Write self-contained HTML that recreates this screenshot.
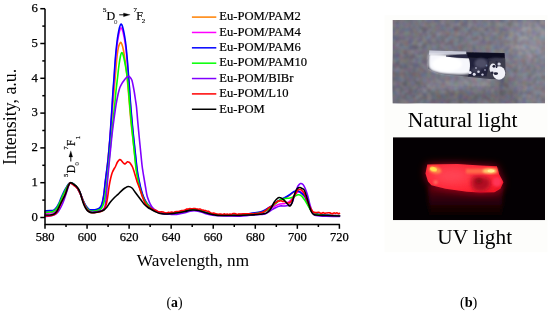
<!DOCTYPE html>
<html><head><meta charset="utf-8"><title>Eu-POM luminescence</title>
<style>
html,body{margin:0;padding:0;background:#fff;width:550px;height:313px;overflow:hidden}
svg{display:block}
text{font-family:"Liberation Serif","Times New Roman",serif;fill:#000}
</style></head><body>
<svg width="550" height="313" viewBox="0 0 550 313">
<defs>
<filter id="b1" x="-20%" y="-20%" width="140%" height="140%"><feGaussianBlur stdDeviation="1"/></filter>
<filter id="b2" x="-30%" y="-30%" width="160%" height="160%"><feGaussianBlur stdDeviation="2"/></filter>
<filter id="b3" x="-50%" y="-50%" width="200%" height="200%"><feGaussianBlur stdDeviation="4"/></filter>
<filter id="b05" x="-20%" y="-20%" width="140%" height="140%"><feGaussianBlur stdDeviation="0.6"/></filter>
<filter id="noise" x="0" y="0" width="100%" height="100%" color-interpolation-filters="sRGB">
  <feTurbulence type="fractalNoise" baseFrequency="0.22" numOctaves="2" seed="7" result="n0"/>
  <feGaussianBlur in="n0" stdDeviation="0.8" result="n"/>
  <feColorMatrix in="n" type="matrix" values="1.0 0.4 0 0 -0.2  0.2 1.0 0.2 0 -0.2  0 0.4 1.0 0 -0.17  0 0 0 0 0.25"/>
  <feComposite in2="SourceGraphic" operator="in"/>
</filter>
<linearGradient id="gbg" x1="0" y1="0" x2="1" y2="0">
  <stop offset="0" stop-color="#6f6d7b"/><stop offset="0.5" stop-color="#767482"/><stop offset="1" stop-color="#7e7c8a"/>
</linearGradient>
<radialGradient id="gred" cx="0.4" cy="0.4" r="0.7">
  <stop offset="0" stop-color="#ff3a4a"/><stop offset="0.7" stop-color="#ff2838"/><stop offset="1" stop-color="#f01828"/>
</radialGradient>
<linearGradient id="grefl" x1="0" y1="0" x2="0" y2="1">
  <stop offset="0" stop-color="#5a0010"/><stop offset="0.5" stop-color="#2c0008"/><stop offset="1" stop-color="#0a0003"/>
</linearGradient>
<clipPath id="c1"><rect x="392.5" y="20" width="152.5" height="83.5"/></clipPath>
<clipPath id="c2"><rect x="393" y="137.2" width="152" height="83"/></clipPath>
</defs>

<!-- ===== plot (a) ===== -->
<g fill="none" stroke-width="1.6" stroke-linejoin="round" stroke-linecap="round">
<path d="M45.00,212.00 C46.33,211.92 51.00,212.08 53.00,211.50 C55.00,210.92 55.83,210.00 57.00,208.50 C58.17,207.00 59.00,204.67 60.00,202.50 C61.00,200.33 62.00,197.75 63.00,195.50 C64.00,193.25 65.08,190.83 66.00,189.00 C66.92,187.17 67.80,185.53 68.50,184.50 C69.20,183.47 69.53,182.98 70.20,182.80 C70.87,182.62 71.78,183.07 72.50,183.40 C73.22,183.73 73.75,184.12 74.50,184.80 C75.25,185.48 76.08,186.13 77.00,187.50 C77.92,188.87 79.00,190.83 80.00,193.00 C81.00,195.17 82.00,198.25 83.00,200.50 C84.00,202.75 85.00,204.95 86.00,206.50 C87.00,208.05 88.00,209.12 89.00,209.80 C90.00,210.48 90.83,210.57 92.00,210.60 C93.17,210.63 94.67,210.40 96.00,210.00 C97.33,209.60 98.95,209.20 100.00,208.20 C101.05,207.20 101.67,206.03 102.30,204.00 C102.93,201.97 103.35,199.00 103.80,196.00 C104.25,193.00 104.58,189.50 105.00,186.00 C105.42,182.50 105.85,179.00 106.30,175.00 C106.75,171.00 107.25,166.33 107.70,162.00 C108.15,157.67 108.57,153.50 109.00,149.00 C109.43,144.50 109.88,139.67 110.30,135.00 C110.72,130.33 111.10,125.67 111.50,121.00 C111.90,116.33 112.32,111.50 112.70,107.00 C113.08,102.50 113.42,98.50 113.80,94.00 C114.18,89.50 114.63,84.33 115.00,80.00 C115.37,75.67 115.63,72.17 116.00,68.00 C116.37,63.83 116.78,58.50 117.20,55.00 C117.62,51.50 117.95,49.08 118.50,47.00 C119.05,44.92 119.92,42.92 120.50,42.50 C121.08,42.08 121.50,43.17 122.00,44.50 C122.50,45.83 123.00,47.92 123.50,50.50 C124.00,53.08 124.50,56.42 125.00,60.00 C125.50,63.58 126.08,68.33 126.50,72.00 C126.92,75.67 127.17,78.50 127.50,82.00 C127.83,85.50 128.17,89.17 128.50,93.00 C128.83,96.83 129.17,101.00 129.50,105.00 C129.83,109.00 130.17,113.33 130.50,117.00 C130.83,120.67 131.12,123.50 131.50,127.00 C131.88,130.50 132.35,134.17 132.80,138.00 C133.25,141.83 133.75,146.00 134.20,150.00 C134.65,154.00 135.07,158.33 135.50,162.00 C135.93,165.67 136.30,168.83 136.80,172.00 C137.30,175.17 137.97,178.33 138.50,181.00 C139.03,183.67 139.42,185.83 140.00,188.00 C140.58,190.17 141.25,192.08 142.00,194.00 C142.75,195.92 143.67,197.92 144.50,199.50 C145.33,201.08 145.92,202.08 147.00,203.50 C148.08,204.92 149.67,206.78 151.00,208.00 C152.33,209.22 153.50,210.00 155.00,210.80 C156.50,211.60 157.50,212.38 160.00,212.80 C162.50,213.22 166.67,213.43 170.00,213.30 C173.33,213.17 176.67,212.58 180.00,212.00 C183.33,211.42 187.17,210.17 190.00,209.80 C192.83,209.43 194.50,209.40 197.00,209.80 C199.50,210.20 202.00,211.40 205.00,212.20 C208.00,213.00 210.83,214.13 215.00,214.60 C219.17,215.07 224.17,215.13 230.00,215.00 C235.83,214.87 245.00,214.23 250.00,213.80 C255.00,213.37 257.50,212.97 260.00,212.40 C262.50,211.83 263.33,211.23 265.00,210.40 C266.67,209.57 268.33,208.57 270.00,207.40 C271.67,206.23 273.33,204.57 275.00,203.40 C276.67,202.23 278.33,201.30 280.00,200.40 C281.67,199.50 283.33,198.90 285.00,198.00 C286.67,197.10 288.50,196.00 290.00,195.00 C291.50,194.00 292.67,192.58 294.00,192.00 C295.33,191.42 297.00,191.50 298.00,191.50 C299.00,191.50 299.33,191.58 300.00,192.00 C300.67,192.42 301.17,193.17 302.00,194.00 C302.83,194.83 304.25,195.92 305.00,197.00 C305.75,198.08 305.92,199.08 306.50,200.50 C307.08,201.92 307.75,203.92 308.50,205.50 C309.25,207.08 310.08,208.72 311.00,210.00 C311.92,211.28 312.50,212.40 314.00,213.20 C315.50,214.00 315.75,214.37 320.00,214.80 C324.25,215.23 336.25,215.63 339.50,215.80" stroke="#ff8000"/>
<path d="M45.00,213.50 C45.83,213.42 48.50,213.17 50.00,213.00 C51.50,212.83 52.83,213.00 54.00,212.50 C55.17,212.00 56.00,211.33 57.00,210.00 C58.00,208.67 59.00,206.50 60.00,204.50 C61.00,202.50 62.00,200.42 63.00,198.00 C64.00,195.58 65.08,192.17 66.00,190.00 C66.92,187.83 67.80,186.20 68.50,185.00 C69.20,183.80 69.53,183.05 70.20,182.80 C70.87,182.55 71.78,183.13 72.50,183.50 C73.22,183.87 73.75,184.28 74.50,185.00 C75.25,185.72 76.08,186.47 77.00,187.80 C77.92,189.13 79.00,190.88 80.00,193.00 C81.00,195.12 82.00,198.17 83.00,200.50 C84.00,202.83 85.00,205.33 86.00,207.00 C87.00,208.67 88.00,209.75 89.00,210.50 C90.00,211.25 90.83,211.42 92.00,211.50 C93.17,211.58 94.83,211.28 96.00,211.00 C97.17,210.72 98.12,210.61 99.00,209.80 C99.88,208.99 100.65,207.65 101.30,206.11 C101.95,204.58 102.42,202.92 102.90,200.62 C103.38,198.31 103.82,195.21 104.20,192.27 C104.58,189.32 104.82,186.13 105.20,182.94 C105.58,179.75 106.03,176.72 106.50,173.12 C106.97,169.52 107.58,165.10 108.00,161.34 C108.42,157.57 108.67,154.30 109.00,150.53 C109.33,146.77 109.67,143.17 110.00,138.75 C110.33,134.33 110.67,128.93 111.00,124.02 C111.33,119.11 111.67,114.36 112.00,109.29 C112.33,104.22 112.67,98.32 113.00,93.58 C113.33,88.83 113.67,85.39 114.00,80.81 C114.33,76.23 114.67,70.50 115.00,66.08 C115.33,61.66 115.67,57.73 116.00,54.30 C116.33,50.86 116.67,48.08 117.00,45.46 C117.33,42.84 117.58,40.96 118.00,38.58 C118.42,36.21 119.00,33.02 119.50,31.22 C120.00,29.42 120.50,27.95 121.00,27.78 C121.50,27.62 122.00,28.77 122.50,30.24 C123.00,31.71 123.50,34.08 124.00,36.62 C124.50,39.16 125.08,42.51 125.50,45.46 C125.92,48.40 126.17,51.02 126.50,54.30 C126.83,57.57 127.17,61.17 127.50,65.10 C127.83,69.03 128.17,73.61 128.50,77.86 C128.83,82.12 129.17,86.05 129.50,90.63 C129.83,95.21 130.17,100.94 130.50,105.36 C130.83,109.78 131.17,113.38 131.50,117.14 C131.83,120.91 132.17,124.51 132.50,127.95 C132.83,131.38 133.08,133.84 133.50,137.77 C133.92,141.69 134.50,146.93 135.00,151.52 C135.50,156.10 136.08,161.66 136.50,165.26 C136.92,168.86 137.08,170.50 137.50,173.12 C137.92,175.74 138.50,178.52 139.00,180.98 C139.50,183.43 139.92,185.56 140.50,187.85 C141.08,190.14 141.83,192.76 142.50,194.72 C143.17,196.69 143.75,198.08 144.50,199.63 C145.25,201.19 145.92,202.59 147.00,204.05 C148.08,205.51 149.67,207.24 151.00,208.40 C152.33,209.56 153.50,210.23 155.00,211.00 C156.50,211.77 157.50,212.57 160.00,213.00 C162.50,213.43 166.67,213.72 170.00,213.60 C173.33,213.48 176.67,212.87 180.00,212.30 C183.33,211.73 187.17,210.53 190.00,210.20 C192.83,209.87 194.50,209.90 197.00,210.30 C199.50,210.70 202.00,211.82 205.00,212.60 C208.00,213.38 210.83,214.52 215.00,215.00 C219.17,215.48 224.17,215.58 230.00,215.50 C235.83,215.42 245.00,214.83 250.00,214.50 C255.00,214.17 256.67,214.42 260.00,213.50 C263.33,212.58 267.50,210.25 270.00,209.00 C272.50,207.75 273.33,206.83 275.00,206.00 C276.67,205.17 278.33,204.42 280.00,204.00 C281.67,203.58 283.33,204.00 285.00,203.50 C286.67,203.00 288.50,202.25 290.00,201.00 C291.50,199.75 293.00,197.25 294.00,196.00 C295.00,194.75 295.08,194.25 296.00,193.50 C296.92,192.75 298.50,191.67 299.50,191.50 C300.50,191.33 301.08,191.67 302.00,192.50 C302.92,193.33 304.17,195.00 305.00,196.50 C305.83,198.00 306.33,199.92 307.00,201.50 C307.67,203.08 308.33,204.50 309.00,206.00 C309.67,207.50 310.17,209.17 311.00,210.50 C311.83,211.83 312.50,213.22 314.00,214.00 C315.50,214.78 315.75,214.87 320.00,215.20 C324.25,215.53 336.25,215.87 339.50,216.00" stroke="#ff00ff"/>
<path d="M45.00,211.00 C45.83,210.92 48.67,210.58 50.00,210.50 C51.33,210.42 52.00,210.92 53.00,210.50 C54.00,210.08 55.00,209.25 56.00,208.00 C57.00,206.75 58.17,204.67 59.00,203.00 C59.83,201.33 60.33,199.58 61.00,198.00 C61.67,196.42 62.17,195.17 63.00,193.50 C63.83,191.83 65.08,189.58 66.00,188.00 C66.92,186.42 67.80,184.87 68.50,184.00 C69.20,183.13 69.53,182.92 70.20,182.80 C70.87,182.68 71.78,182.97 72.50,183.30 C73.22,183.63 73.75,184.10 74.50,184.80 C75.25,185.50 76.08,186.22 77.00,187.50 C77.92,188.78 79.00,190.42 80.00,192.50 C81.00,194.58 82.00,197.75 83.00,200.00 C84.00,202.25 85.00,204.45 86.00,206.00 C87.00,207.55 88.00,208.65 89.00,209.30 C90.00,209.95 90.83,209.85 92.00,209.90 C93.17,209.95 94.83,209.85 96.00,209.60 C97.17,209.35 98.12,209.07 99.00,208.40 C99.88,207.73 100.65,207.00 101.30,205.60 C101.95,204.20 102.42,202.35 102.90,200.00 C103.38,197.65 103.82,194.50 104.20,191.50 C104.58,188.50 104.82,185.25 105.20,182.00 C105.58,178.75 106.03,175.67 106.50,172.00 C106.97,168.33 107.58,163.83 108.00,160.00 C108.42,156.17 108.67,152.83 109.00,149.00 C109.33,145.17 109.67,141.50 110.00,137.00 C110.33,132.50 110.67,127.00 111.00,122.00 C111.33,117.00 111.67,112.17 112.00,107.00 C112.33,101.83 112.67,95.83 113.00,91.00 C113.33,86.17 113.67,82.67 114.00,78.00 C114.33,73.33 114.67,67.50 115.00,63.00 C115.33,58.50 115.67,54.50 116.00,51.00 C116.33,47.50 116.67,44.67 117.00,42.00 C117.33,39.33 117.58,37.42 118.00,35.00 C118.42,32.58 119.00,29.33 119.50,27.50 C120.00,25.67 120.50,24.17 121.00,24.00 C121.50,23.83 122.00,25.00 122.50,26.50 C123.00,28.00 123.50,30.42 124.00,33.00 C124.50,35.58 125.08,39.00 125.50,42.00 C125.92,45.00 126.17,47.67 126.50,51.00 C126.83,54.33 127.17,58.00 127.50,62.00 C127.83,66.00 128.17,70.67 128.50,75.00 C128.83,79.33 129.17,83.33 129.50,88.00 C129.83,92.67 130.17,98.50 130.50,103.00 C130.83,107.50 131.17,111.17 131.50,115.00 C131.83,118.83 132.17,122.50 132.50,126.00 C132.83,129.50 133.08,132.00 133.50,136.00 C133.92,140.00 134.50,145.33 135.00,150.00 C135.50,154.67 136.08,160.33 136.50,164.00 C136.92,167.67 137.08,169.33 137.50,172.00 C137.92,174.67 138.50,177.50 139.00,180.00 C139.50,182.50 139.92,184.67 140.50,187.00 C141.08,189.33 141.83,192.00 142.50,194.00 C143.17,196.00 143.75,197.42 144.50,199.00 C145.25,200.58 145.92,202.00 147.00,203.50 C148.08,205.00 149.67,206.78 151.00,208.00 C152.33,209.22 153.50,210.00 155.00,210.80 C156.50,211.60 158.33,212.35 160.00,212.80 C161.67,213.25 163.33,213.42 165.00,213.50 C166.67,213.58 168.33,213.42 170.00,213.30 C171.67,213.18 173.33,213.02 175.00,212.80 C176.67,212.58 178.33,212.30 180.00,212.00 C181.67,211.70 183.33,211.37 185.00,211.00 C186.67,210.63 188.58,210.05 190.00,209.80 C191.42,209.55 192.33,209.50 193.50,209.50 C194.67,209.50 195.75,209.58 197.00,209.80 C198.25,210.02 199.67,210.40 201.00,210.80 C202.33,211.20 203.50,211.75 205.00,212.20 C206.50,212.65 208.33,213.12 210.00,213.50 C211.67,213.88 213.33,214.25 215.00,214.50 C216.67,214.75 217.50,214.92 220.00,215.00 C222.50,215.08 226.67,215.03 230.00,215.00 C233.33,214.97 236.67,215.05 240.00,214.80 C243.33,214.55 247.50,213.83 250.00,213.50 C252.50,213.17 253.33,213.05 255.00,212.80 C256.67,212.55 258.33,212.47 260.00,212.00 C261.67,211.53 263.33,210.83 265.00,210.00 C266.67,209.17 268.33,208.17 270.00,207.00 C271.67,205.83 273.33,204.17 275.00,203.00 C276.67,201.83 278.33,200.92 280.00,200.00 C281.67,199.08 283.33,198.42 285.00,197.50 C286.67,196.58 288.50,195.50 290.00,194.50 C291.50,193.50 292.67,192.08 294.00,191.50 C295.33,190.92 296.67,190.67 298.00,191.00 C299.33,191.33 300.83,192.58 302.00,193.50 C303.17,194.42 304.25,195.42 305.00,196.50 C305.75,197.58 305.92,198.58 306.50,200.00 C307.08,201.42 307.75,203.33 308.50,205.00 C309.25,206.67 310.08,208.67 311.00,210.00 C311.92,211.33 312.50,212.25 314.00,213.00 C315.50,213.75 317.33,214.13 320.00,214.50 C322.67,214.87 326.75,215.03 330.00,215.20 C333.25,215.37 337.92,215.45 339.50,215.50" stroke="#0000ff"/>
<path d="M45.00,212.50 C45.67,212.42 47.67,212.17 49.00,212.00 C50.33,211.83 51.67,212.17 53.00,211.50 C54.33,210.83 55.83,209.58 57.00,208.00 C58.17,206.42 59.00,204.17 60.00,202.00 C61.00,199.83 62.00,197.17 63.00,195.00 C64.00,192.83 65.08,190.75 66.00,189.00 C66.92,187.25 67.80,185.53 68.50,184.50 C69.20,183.47 69.53,182.98 70.20,182.80 C70.87,182.62 71.78,183.07 72.50,183.40 C73.22,183.73 73.75,184.12 74.50,184.80 C75.25,185.48 76.08,186.13 77.00,187.50 C77.92,188.87 79.00,190.83 80.00,193.00 C81.00,195.17 82.00,198.17 83.00,200.50 C84.00,202.83 85.00,205.37 86.00,207.00 C87.00,208.63 88.00,209.60 89.00,210.30 C90.00,211.00 90.83,211.12 92.00,211.20 C93.17,211.28 94.67,211.08 96.00,210.80 C97.33,210.52 98.92,210.22 100.00,209.50 C101.08,208.78 101.75,208.08 102.50,206.50 C103.25,204.92 103.92,202.75 104.50,200.00 C105.08,197.25 105.50,194.00 106.00,190.00 C106.50,186.00 107.00,180.83 107.50,176.00 C108.00,171.17 108.50,166.00 109.00,161.00 C109.50,156.00 110.00,151.00 110.50,146.00 C111.00,141.00 111.50,136.00 112.00,131.00 C112.50,126.00 113.00,120.83 113.50,116.00 C114.00,111.17 114.58,106.17 115.00,102.00 C115.42,97.83 115.58,95.00 116.00,91.00 C116.42,87.00 117.00,82.33 117.50,78.00 C118.00,73.67 118.50,68.67 119.00,65.00 C119.50,61.33 120.08,58.03 120.50,56.00 C120.92,53.97 121.12,53.13 121.50,52.80 C121.88,52.47 122.38,53.05 122.80,54.00 C123.22,54.95 123.55,56.50 124.00,58.50 C124.45,60.50 125.00,63.25 125.50,66.00 C126.00,68.75 126.58,72.00 127.00,75.00 C127.42,78.00 127.67,80.50 128.00,84.00 C128.33,87.50 128.67,92.00 129.00,96.00 C129.33,100.00 129.67,104.17 130.00,108.00 C130.33,111.83 130.58,114.67 131.00,119.00 C131.42,123.33 132.00,129.00 132.50,134.00 C133.00,139.00 133.50,144.00 134.00,149.00 C134.50,154.00 135.08,160.17 135.50,164.00 C135.92,167.83 136.08,169.33 136.50,172.00 C136.92,174.67 137.50,177.50 138.00,180.00 C138.50,182.50 138.92,184.75 139.50,187.00 C140.08,189.25 140.75,191.42 141.50,193.50 C142.25,195.58 143.08,197.75 144.00,199.50 C144.92,201.25 145.83,202.53 147.00,204.00 C148.17,205.47 149.67,207.13 151.00,208.30 C152.33,209.47 153.50,210.22 155.00,211.00 C156.50,211.78 158.33,212.53 160.00,213.00 C161.67,213.47 163.33,213.70 165.00,213.80 C166.67,213.90 168.33,213.73 170.00,213.60 C171.67,213.47 173.33,213.22 175.00,213.00 C176.67,212.78 178.33,212.58 180.00,212.30 C181.67,212.02 183.33,211.68 185.00,211.30 C186.67,210.92 188.58,210.25 190.00,210.00 C191.42,209.75 192.33,209.78 193.50,209.80 C194.67,209.82 195.75,209.90 197.00,210.10 C198.25,210.30 199.67,210.62 201.00,211.00 C202.33,211.38 203.50,211.93 205.00,212.40 C206.50,212.87 208.33,213.40 210.00,213.80 C211.67,214.20 213.33,214.55 215.00,214.80 C216.67,215.05 217.50,215.22 220.00,215.30 C222.50,215.38 226.67,215.32 230.00,215.30 C233.33,215.28 236.67,215.38 240.00,215.20 C243.33,215.02 246.67,214.57 250.00,214.20 C253.33,213.83 257.50,213.50 260.00,213.00 C262.50,212.50 263.33,212.03 265.00,211.20 C266.67,210.37 268.33,209.20 270.00,208.00 C271.67,206.80 273.33,205.33 275.00,204.00 C276.67,202.67 278.33,200.92 280.00,200.00 C281.67,199.08 283.33,198.83 285.00,198.50 C286.67,198.17 288.50,198.33 290.00,198.00 C291.50,197.67 292.67,197.03 294.00,196.50 C295.33,195.97 297.00,195.05 298.00,194.80 C299.00,194.55 299.33,194.72 300.00,195.00 C300.67,195.28 301.33,195.83 302.00,196.50 C302.67,197.17 303.33,198.08 304.00,199.00 C304.67,199.92 305.33,200.92 306.00,202.00 C306.67,203.08 307.17,204.08 308.00,205.50 C308.83,206.92 310.00,209.17 311.00,210.50 C312.00,211.83 312.50,212.75 314.00,213.50 C315.50,214.25 317.33,214.65 320.00,215.00 C322.67,215.35 326.75,215.43 330.00,215.60 C333.25,215.77 337.92,215.93 339.50,216.00" stroke="#00ff00"/>
<path d="M45.00,216.50 C45.83,216.42 48.33,216.33 50.00,216.00 C51.67,215.67 53.67,215.17 55.00,214.50 C56.33,213.83 57.00,213.25 58.00,212.00 C59.00,210.75 60.00,209.00 61.00,207.00 C62.00,205.00 63.00,202.67 64.00,200.00 C65.00,197.33 66.17,193.50 67.00,191.00 C67.83,188.50 68.47,186.33 69.00,185.00 C69.53,183.67 69.62,183.17 70.20,183.00 C70.78,182.83 71.78,183.57 72.50,184.00 C73.22,184.43 73.83,185.07 74.50,185.60 C75.17,186.13 75.83,186.47 76.50,187.20 C77.17,187.93 77.75,188.62 78.50,190.00 C79.25,191.38 80.25,193.67 81.00,195.50 C81.75,197.33 82.33,199.25 83.00,201.00 C83.67,202.75 84.33,204.58 85.00,206.00 C85.67,207.42 86.33,208.62 87.00,209.50 C87.67,210.38 88.17,210.85 89.00,211.30 C89.83,211.75 90.83,212.12 92.00,212.20 C93.17,212.28 94.67,212.00 96.00,211.80 C97.33,211.60 98.83,211.38 100.00,211.00 C101.17,210.62 102.17,210.25 103.00,209.50 C103.83,208.75 104.50,208.08 105.00,206.50 C105.50,204.92 105.72,202.42 106.00,200.00 C106.28,197.58 106.43,195.33 106.70,192.00 C106.97,188.67 107.22,184.50 107.60,180.00 C107.98,175.50 108.52,170.00 109.00,165.00 C109.48,160.00 110.00,155.00 110.50,150.00 C111.00,145.00 111.42,140.17 112.00,135.00 C112.58,129.83 113.33,124.00 114.00,119.00 C114.67,114.00 115.50,108.25 116.00,105.00 C116.50,101.75 116.67,101.25 117.00,99.50 C117.33,97.75 117.67,96.00 118.00,94.50 C118.33,93.00 118.67,91.72 119.00,90.50 C119.33,89.28 119.50,88.40 120.00,87.20 C120.50,86.00 121.33,84.42 122.00,83.30 C122.67,82.18 123.33,81.38 124.00,80.50 C124.67,79.62 125.28,78.68 126.00,78.00 C126.72,77.32 127.58,76.48 128.30,76.40 C129.02,76.32 129.68,76.82 130.30,77.50 C130.92,78.18 131.52,79.08 132.00,80.50 C132.48,81.92 132.82,84.08 133.20,86.00 C133.58,87.92 133.92,89.67 134.30,92.00 C134.68,94.33 135.13,97.50 135.50,100.00 C135.87,102.50 136.13,103.50 136.50,107.00 C136.87,110.50 137.28,116.33 137.70,121.00 C138.12,125.67 138.53,130.17 139.00,135.00 C139.47,139.83 140.00,145.00 140.50,150.00 C141.00,155.00 141.58,161.33 142.00,165.00 C142.42,168.67 142.67,169.83 143.00,172.00 C143.33,174.17 143.58,175.50 144.00,178.00 C144.42,180.50 145.00,184.08 145.50,187.00 C146.00,189.92 146.50,193.33 147.00,195.50 C147.50,197.67 148.00,198.67 148.50,200.00 C149.00,201.33 149.42,202.33 150.00,203.50 C150.58,204.67 151.17,205.92 152.00,207.00 C152.83,208.08 153.67,209.00 155.00,210.00 C156.33,211.00 158.33,212.33 160.00,213.00 C161.67,213.67 163.33,213.78 165.00,214.00 C166.67,214.22 168.33,214.22 170.00,214.30 C171.67,214.38 173.33,214.58 175.00,214.50 C176.67,214.42 178.33,214.08 180.00,213.80 C181.67,213.52 183.33,213.22 185.00,212.80 C186.67,212.38 188.50,211.63 190.00,211.30 C191.50,210.97 192.67,210.82 194.00,210.80 C195.33,210.78 196.67,210.97 198.00,211.20 C199.33,211.43 200.67,211.77 202.00,212.20 C203.33,212.63 204.67,213.37 206.00,213.80 C207.33,214.23 208.50,214.52 210.00,214.80 C211.50,215.08 213.33,215.35 215.00,215.50 C216.67,215.65 217.50,215.62 220.00,215.70 C222.50,215.78 226.67,215.93 230.00,216.00 C233.33,216.07 236.67,216.22 240.00,216.10 C243.33,215.98 246.67,215.57 250.00,215.30 C253.33,215.03 257.50,214.72 260.00,214.50 C262.50,214.28 263.33,214.58 265.00,214.00 C266.67,213.42 268.33,212.00 270.00,211.00 C271.67,210.00 273.33,208.83 275.00,208.00 C276.67,207.17 278.33,206.33 280.00,206.00 C281.67,205.67 283.33,206.17 285.00,206.00 C286.67,205.83 288.83,205.50 290.00,205.00 C291.17,204.50 291.33,204.33 292.00,203.00 C292.67,201.67 293.33,199.00 294.00,197.00 C294.67,195.00 295.33,192.83 296.00,191.00 C296.67,189.17 297.25,187.25 298.00,186.00 C298.75,184.75 299.67,183.75 300.50,183.50 C301.33,183.25 302.25,183.75 303.00,184.50 C303.75,185.25 304.25,186.25 305.00,188.00 C305.75,189.75 306.67,192.17 307.50,195.00 C308.33,197.83 309.25,202.33 310.00,205.00 C310.75,207.67 311.33,209.45 312.00,211.00 C312.67,212.55 313.33,213.55 314.00,214.30 C314.67,215.05 314.00,215.17 316.00,215.50 C318.00,215.83 322.08,216.13 326.00,216.30 C329.92,216.47 337.25,216.47 339.50,216.50" stroke="#8000ff"/>
<path d="M45.00,216.00 C46.17,215.92 50.17,215.92 52.00,215.50 C53.83,215.08 54.83,214.75 56.00,213.50 C57.17,212.25 58.00,210.08 59.00,208.00 C60.00,205.92 61.00,203.17 62.00,201.00 C63.00,198.83 64.00,197.42 65.00,195.00 C66.00,192.58 67.13,188.50 68.00,186.50 C68.87,184.50 69.53,183.42 70.20,183.00 C70.87,182.58 71.37,183.58 72.00,184.00 C72.63,184.42 73.33,185.00 74.00,185.50 C74.67,186.00 75.25,186.25 76.00,187.00 C76.75,187.75 77.67,188.58 78.50,190.00 C79.33,191.42 80.25,193.67 81.00,195.50 C81.75,197.33 82.33,199.25 83.00,201.00 C83.67,202.75 84.33,204.58 85.00,206.00 C85.67,207.42 86.33,208.58 87.00,209.50 C87.67,210.42 88.17,210.95 89.00,211.50 C89.83,212.05 90.67,212.67 92.00,212.80 C93.33,212.93 95.50,212.52 97.00,212.30 C98.50,212.08 99.92,211.88 101.00,211.50 C102.08,211.12 102.75,210.83 103.50,210.00 C104.25,209.17 104.95,207.83 105.50,206.50 C106.05,205.17 106.42,203.75 106.80,202.00 C107.18,200.25 107.50,198.00 107.80,196.00 C108.10,194.00 108.32,192.00 108.60,190.00 C108.88,188.00 109.18,185.83 109.50,184.00 C109.82,182.17 110.17,180.50 110.50,179.00 C110.83,177.50 111.17,176.17 111.50,175.00 C111.83,173.83 112.08,173.00 112.50,172.00 C112.92,171.00 113.50,169.92 114.00,169.00 C114.50,168.08 114.92,167.67 115.50,166.50 C116.08,165.33 116.78,163.17 117.50,162.00 C118.22,160.83 119.17,159.75 119.80,159.50 C120.43,159.25 120.85,160.08 121.30,160.50 C121.75,160.92 122.05,161.50 122.50,162.00 C122.95,162.50 123.58,163.17 124.00,163.50 C124.42,163.83 124.62,164.12 125.00,164.00 C125.38,163.88 125.88,163.17 126.30,162.80 C126.72,162.43 127.05,161.90 127.50,161.80 C127.95,161.70 128.55,161.97 129.00,162.20 C129.45,162.43 129.62,162.40 130.20,163.20 C130.78,164.00 131.78,165.37 132.50,167.00 C133.22,168.63 133.92,171.17 134.50,173.00 C135.08,174.83 135.58,176.58 136.00,178.00 C136.42,179.42 136.62,180.33 137.00,181.50 C137.38,182.67 137.88,183.92 138.30,185.00 C138.72,186.08 139.05,186.75 139.50,188.00 C139.95,189.25 140.50,191.00 141.00,192.50 C141.50,194.00 141.83,195.25 142.50,197.00 C143.17,198.75 144.17,201.50 145.00,203.00 C145.83,204.50 146.67,205.17 147.50,206.00 C148.33,206.83 149.33,207.60 150.00,208.00 C150.67,208.40 151.00,208.15 151.50,208.38 C152.00,208.61 152.50,209.11 153.00,209.38 C153.50,209.65 154.02,209.84 154.50,210.00 C154.98,210.16 155.42,210.17 155.88,210.36 C156.33,210.54 156.79,210.90 157.25,211.11 C157.71,211.33 158.17,211.49 158.62,211.64 C159.08,211.79 159.49,211.97 160.00,212.00 C160.51,212.03 161.11,211.79 161.67,211.79 C162.22,211.79 162.78,211.83 163.33,212.00 C163.89,212.17 164.44,212.62 165.00,212.80 C165.56,212.98 166.11,213.15 166.67,213.07 C167.22,212.99 167.78,212.43 168.33,212.34 C168.89,212.24 169.44,212.56 170.00,212.50 C170.56,212.44 171.11,211.96 171.67,211.97 C172.22,211.99 172.78,212.61 173.33,212.58 C173.89,212.55 174.44,211.98 175.00,211.80 C175.56,211.62 176.11,211.53 176.67,211.50 C177.22,211.47 177.78,211.72 178.33,211.64 C178.89,211.55 179.44,211.17 180.00,211.00 C180.56,210.83 181.11,210.73 181.67,210.64 C182.22,210.56 182.78,210.59 183.33,210.49 C183.89,210.38 184.44,210.23 185.00,210.00 C185.56,209.77 186.11,209.26 186.67,209.12 C187.22,208.97 187.78,209.25 188.33,209.15 C188.89,209.05 189.44,208.54 190.00,208.50 C190.56,208.46 191.11,208.90 191.67,208.90 C192.22,208.91 192.78,208.59 193.33,208.53 C193.89,208.46 194.50,208.42 195.00,208.50 C195.50,208.58 195.89,208.89 196.33,209.00 C196.78,209.11 197.22,209.12 197.67,209.16 C198.11,209.19 198.56,209.23 199.00,209.20 C199.44,209.17 199.89,208.85 200.33,208.99 C200.78,209.12 201.22,209.85 201.67,210.02 C202.11,210.19 202.56,209.92 203.00,210.00 C203.44,210.08 203.89,210.40 204.33,210.50 C204.78,210.60 205.22,210.46 205.67,210.58 C206.11,210.70 206.53,211.07 207.00,211.20 C207.47,211.33 208.00,211.12 208.50,211.33 C209.00,211.55 209.47,212.18 210.00,212.50 C210.53,212.82 211.11,213.13 211.67,213.24 C212.22,213.34 212.78,213.09 213.33,213.14 C213.89,213.18 214.44,213.37 215.00,213.50 C215.56,213.63 216.11,213.78 216.67,213.91 C217.22,214.03 217.78,214.23 218.33,214.25 C218.89,214.27 219.48,214.00 220.00,214.00 C220.52,214.00 220.95,214.16 221.43,214.24 C221.90,214.31 222.38,214.52 222.86,214.46 C223.33,214.40 223.81,213.91 224.29,213.88 C224.76,213.86 225.24,214.32 225.71,214.33 C226.19,214.34 226.67,213.91 227.14,213.94 C227.62,213.96 228.10,214.47 228.57,214.48 C229.05,214.49 229.52,214.01 230.00,214.00 C230.48,213.99 230.95,214.49 231.43,214.42 C231.90,214.34 232.38,213.69 232.86,213.56 C233.33,213.42 233.81,213.58 234.29,213.60 C234.76,213.62 235.24,213.54 235.71,213.69 C236.19,213.84 236.67,214.47 237.14,214.51 C237.62,214.55 238.10,214.02 238.57,213.93 C239.05,213.84 239.52,213.97 240.00,214.00 C240.48,214.03 240.95,214.16 241.43,214.11 C241.90,214.06 242.38,213.76 242.86,213.72 C243.33,213.69 243.81,213.92 244.29,213.92 C244.76,213.93 245.24,213.80 245.71,213.76 C246.19,213.72 246.67,213.67 247.14,213.69 C247.62,213.72 248.10,213.90 248.57,213.92 C249.05,213.94 249.48,213.82 250.00,213.80 C250.52,213.78 251.11,213.75 251.67,213.79 C252.22,213.83 252.78,214.09 253.33,214.04 C253.89,214.00 254.44,213.60 255.00,213.50 C255.56,213.40 256.11,213.47 256.67,213.47 C257.22,213.47 257.78,213.62 258.33,213.51 C258.89,213.39 259.44,212.96 260.00,212.80 C260.56,212.64 261.11,212.66 261.67,212.53 C262.22,212.39 262.78,212.29 263.33,212.01 C263.89,211.72 264.44,211.16 265.00,210.80 C265.56,210.44 266.11,210.27 266.67,209.82 C267.22,209.37 267.78,208.52 268.33,208.10 C268.89,207.68 269.44,207.61 270.00,207.30 C270.56,206.99 271.11,206.66 271.67,206.26 C272.22,205.87 272.78,205.49 273.33,204.94 C273.89,204.40 274.47,203.42 275.00,203.00 C275.53,202.58 276.00,202.78 276.50,202.45 C277.00,202.11 277.50,201.24 278.00,201.00 C278.50,200.76 279.00,201.01 279.50,200.98 C280.00,200.94 280.50,200.73 281.00,200.80 C281.50,200.87 282.00,201.27 282.50,201.39 C283.00,201.50 283.53,201.45 284.00,201.50 C284.47,201.55 284.89,201.45 285.33,201.68 C285.78,201.91 286.22,202.65 286.67,202.86 C287.11,203.08 287.44,203.06 288.00,203.00 C288.56,202.94 289.33,203.00 290.00,202.50 C290.67,202.00 291.33,201.00 292.00,200.00 C292.67,199.00 293.33,197.67 294.00,196.50 C294.67,195.33 295.33,194.08 296.00,193.00 C296.67,191.92 297.33,190.58 298.00,190.00 C298.67,189.42 299.33,189.42 300.00,189.50 C300.67,189.58 301.33,189.92 302.00,190.50 C302.67,191.08 303.42,192.08 304.00,193.00 C304.58,193.92 305.00,194.83 305.50,196.00 C306.00,197.17 306.42,198.50 307.00,200.00 C307.58,201.50 308.33,203.50 309.00,205.00 C309.67,206.50 310.33,207.83 311.00,209.00 C311.67,210.17 312.42,211.44 313.00,212.00 C313.58,212.56 314.00,212.28 314.50,212.38 C315.00,212.48 315.51,212.59 316.00,212.60 C316.49,212.61 316.95,212.48 317.43,212.42 C317.90,212.36 318.38,212.11 318.86,212.23 C319.33,212.36 319.81,212.97 320.29,213.16 C320.76,213.35 321.24,213.49 321.71,213.37 C322.19,213.25 322.67,212.45 323.14,212.43 C323.62,212.42 324.10,213.18 324.57,213.27 C325.05,213.37 325.54,213.06 326.00,213.00 C326.46,212.94 326.90,212.99 327.35,212.94 C327.80,212.89 328.25,212.70 328.70,212.70 C329.15,212.69 329.60,212.77 330.05,212.89 C330.50,213.02 330.95,213.34 331.40,213.46 C331.85,213.58 332.30,213.73 332.75,213.61 C333.20,213.49 333.65,212.77 334.10,212.74 C334.55,212.70 335.00,213.39 335.45,213.41 C335.90,213.42 336.35,212.79 336.80,212.82 C337.25,212.85 337.70,213.50 338.15,213.60 C338.60,213.70 339.27,213.43 339.50,213.40" stroke="#ff0000"/>
<path d="M45.00,215.00 C45.83,215.00 48.50,215.17 50.00,215.00 C51.50,214.83 52.83,214.67 54.00,214.00 C55.17,213.33 56.00,212.50 57.00,211.00 C58.00,209.50 59.00,207.00 60.00,205.00 C61.00,203.00 62.08,200.83 63.00,199.00 C63.92,197.17 64.67,196.08 65.50,194.00 C66.33,191.92 67.22,188.37 68.00,186.50 C68.78,184.63 69.45,183.30 70.20,182.80 C70.95,182.30 71.78,183.13 72.50,183.50 C73.22,183.87 73.83,184.50 74.50,185.00 C75.17,185.50 75.83,185.83 76.50,186.50 C77.17,187.17 77.87,187.92 78.50,189.00 C79.13,190.08 79.72,191.33 80.30,193.00 C80.88,194.67 81.42,197.08 82.00,199.00 C82.58,200.92 83.17,202.92 83.80,204.50 C84.43,206.08 85.02,207.33 85.80,208.50 C86.58,209.67 87.47,210.78 88.50,211.50 C89.53,212.22 90.58,212.68 92.00,212.80 C93.42,212.92 95.50,212.47 97.00,212.20 C98.50,211.93 99.83,211.57 101.00,211.20 C102.17,210.83 103.00,210.70 104.00,210.00 C105.00,209.30 106.00,208.25 107.00,207.00 C108.00,205.75 108.83,204.00 110.00,202.50 C111.17,201.00 112.67,199.37 114.00,198.00 C115.33,196.63 116.75,195.50 118.00,194.30 C119.25,193.10 120.33,191.85 121.50,190.80 C122.67,189.75 123.83,188.72 125.00,188.00 C126.17,187.28 127.33,186.50 128.50,186.50 C129.67,186.50 130.92,187.08 132.00,188.00 C133.08,188.92 134.00,190.67 135.00,192.00 C136.00,193.33 137.00,194.67 138.00,196.00 C139.00,197.33 140.00,198.67 141.00,200.00 C142.00,201.33 142.83,202.75 144.00,204.00 C145.17,205.25 146.83,206.62 148.00,207.50 C149.17,208.38 149.83,208.63 151.00,209.30 C152.17,209.97 153.50,210.80 155.00,211.50 C156.50,212.20 158.33,213.08 160.00,213.50 C161.67,213.92 163.33,213.95 165.00,214.00 C166.67,214.05 168.33,213.93 170.00,213.80 C171.67,213.67 173.33,213.42 175.00,213.20 C176.67,212.98 178.33,212.78 180.00,212.50 C181.67,212.22 183.33,211.88 185.00,211.50 C186.67,211.12 188.58,210.45 190.00,210.20 C191.42,209.95 192.33,209.98 193.50,210.00 C194.67,210.02 195.75,210.10 197.00,210.30 C198.25,210.50 199.67,210.83 201.00,211.20 C202.33,211.57 203.50,212.03 205.00,212.50 C206.50,212.97 208.33,213.58 210.00,214.00 C211.67,214.42 213.33,214.75 215.00,215.00 C216.67,215.25 217.50,215.42 220.00,215.50 C222.50,215.58 226.67,215.50 230.00,215.50 C233.33,215.50 236.67,215.58 240.00,215.50 C243.33,215.42 246.67,215.20 250.00,215.00 C253.33,214.80 257.50,214.53 260.00,214.30 C262.50,214.07 263.67,214.02 265.00,213.60 C266.33,213.18 267.17,212.43 268.00,211.80 C268.83,211.17 269.33,210.68 270.00,209.80 C270.67,208.92 271.33,207.72 272.00,206.50 C272.67,205.28 273.25,203.72 274.00,202.50 C274.75,201.28 275.67,200.03 276.50,199.20 C277.33,198.37 278.08,197.62 279.00,197.50 C279.92,197.38 281.00,197.92 282.00,198.50 C283.00,199.08 284.00,200.00 285.00,201.00 C286.00,202.00 287.17,203.67 288.00,204.50 C288.83,205.33 289.33,206.25 290.00,206.00 C290.67,205.75 291.33,204.67 292.00,203.00 C292.67,201.33 293.33,198.08 294.00,196.00 C294.67,193.92 295.33,191.83 296.00,190.50 C296.67,189.17 297.33,188.50 298.00,188.00 C298.67,187.50 299.33,187.42 300.00,187.50 C300.67,187.58 301.25,188.00 302.00,188.50 C302.75,189.00 303.67,188.92 304.50,190.50 C305.33,192.08 306.25,195.58 307.00,198.00 C307.75,200.42 308.33,202.83 309.00,205.00 C309.67,207.17 310.33,209.50 311.00,211.00 C311.67,212.50 312.17,213.33 313.00,214.00 C313.83,214.67 313.83,214.75 316.00,215.00 C318.17,215.25 322.08,215.33 326.00,215.50 C329.92,215.67 337.25,215.92 339.50,216.00" stroke="#000000"/>
</g>
<g stroke="#000" stroke-width="1.5" fill="none">
<path d="M45,8.7 V224.4 H339.9" stroke-linejoin="miter"/>
<line x1="40.3" y1="217.50" x2="45" y2="217.50"/>
<line x1="40.3" y1="182.70" x2="45" y2="182.70"/>
<line x1="40.3" y1="147.90" x2="45" y2="147.90"/>
<line x1="40.3" y1="113.10" x2="45" y2="113.10"/>
<line x1="40.3" y1="78.30" x2="45" y2="78.30"/>
<line x1="40.3" y1="43.50" x2="45" y2="43.50"/>
<line x1="40.3" y1="8.70" x2="45" y2="8.70"/>
<line x1="42.3" y1="200.10" x2="45" y2="200.10"/>
<line x1="42.3" y1="165.30" x2="45" y2="165.30"/>
<line x1="42.3" y1="130.50" x2="45" y2="130.50"/>
<line x1="42.3" y1="95.70" x2="45" y2="95.70"/>
<line x1="42.3" y1="60.90" x2="45" y2="60.90"/>
<line x1="42.3" y1="26.10" x2="45" y2="26.10"/>
<line x1="45.00" y1="224.4" x2="45.00" y2="228.8"/>
<line x1="87.06" y1="224.4" x2="87.06" y2="228.8"/>
<line x1="129.11" y1="224.4" x2="129.11" y2="228.8"/>
<line x1="171.17" y1="224.4" x2="171.17" y2="228.8"/>
<line x1="213.23" y1="224.4" x2="213.23" y2="228.8"/>
<line x1="255.29" y1="224.4" x2="255.29" y2="228.8"/>
<line x1="297.34" y1="224.4" x2="297.34" y2="228.8"/>
<line x1="339.40" y1="224.4" x2="339.40" y2="228.8"/>
<line x1="66.03" y1="224.4" x2="66.03" y2="227"/>
<line x1="108.09" y1="224.4" x2="108.09" y2="227"/>
<line x1="150.14" y1="224.4" x2="150.14" y2="227"/>
<line x1="192.20" y1="224.4" x2="192.20" y2="227"/>
<line x1="234.26" y1="224.4" x2="234.26" y2="227"/>
<line x1="276.31" y1="224.4" x2="276.31" y2="227"/>
<line x1="318.37" y1="224.4" x2="318.37" y2="227"/>
</g>
<g font-size="12.7" text-anchor="end" stroke="#000" stroke-width="0.25">
<text x="37.9" y="220.80">0</text>
<text x="37.9" y="186.00">1</text>
<text x="37.9" y="151.20">2</text>
<text x="37.9" y="116.40">3</text>
<text x="37.9" y="81.60">4</text>
<text x="37.9" y="46.80">5</text>
<text x="37.9" y="12.00">6</text>
</g>
<g font-size="12.5" text-anchor="middle" stroke="#000" stroke-width="0.25">
<text x="45.00" y="240.8">580</text>
<text x="87.06" y="240.8">600</text>
<text x="129.11" y="240.8">620</text>
<text x="171.17" y="240.8">640</text>
<text x="213.23" y="240.8">660</text>
<text x="255.29" y="240.8">680</text>
<text x="297.34" y="240.8">700</text>
<text x="339.40" y="240.8">720</text>
</g>
<g stroke-width="1.5" font-size="12.6">
<line x1="191.9" y1="17.10" x2="216.3" y2="17.10" stroke="#ff8000"/>
<text x="219.3" y="20.35" stroke="#000" stroke-width="0.2">Eu-POM/PAM2</text>
<line x1="191.9" y1="32.46" x2="216.3" y2="32.46" stroke="#ff00ff"/>
<text x="219.3" y="35.71" stroke="#000" stroke-width="0.2">Eu-POM/PAM4</text>
<line x1="191.9" y1="47.82" x2="216.3" y2="47.82" stroke="#0000ff"/>
<text x="219.3" y="51.07" stroke="#000" stroke-width="0.2">Eu-POM/PAM6</text>
<line x1="191.9" y1="63.18" x2="216.3" y2="63.18" stroke="#00ff00"/>
<text x="219.3" y="66.43" stroke="#000" stroke-width="0.2">Eu-POM/PAM10</text>
<line x1="191.9" y1="78.54" x2="216.3" y2="78.54" stroke="#8000ff"/>
<text x="219.3" y="81.79" stroke="#000" stroke-width="0.2">Eu-POM/BIBr</text>
<line x1="191.9" y1="93.90" x2="216.3" y2="93.90" stroke="#ff0000"/>
<text x="219.3" y="97.15" stroke="#000" stroke-width="0.2">Eu-POM/L10</text>
<line x1="191.9" y1="109.26" x2="216.3" y2="109.26" stroke="#000000"/>
<text x="219.3" y="112.51" stroke="#000" stroke-width="0.2">Eu-POM</text>
</g>
<!-- transition labels -->
<g id="t2" transform="translate(103.2,19.5)" stroke="#000" stroke-width="0.2">
  <text x="-0.2" y="-7.2" font-size="6.8">5</text>
  <text x="3.2" y="0" font-size="12">D</text>
  <text x="10.8" y="4.1" font-size="6.8" style="fill:#666;stroke:#666">0</text>
  <line x1="16" y1="-4.7" x2="21" y2="-4.7" stroke="#222" stroke-width="1.1"/>
  <polygon points="20.3,-6.6 27,-4.7 20.3,-2.8" fill="#000"/>
  <text x="30.2" y="-7.7" font-size="6.8">7</text>
  <text x="33" y="0" font-size="12">F</text>
  <text x="38.6" y="3.2" font-size="6.8">2</text>
</g>
<g transform="translate(75.1,176.6) rotate(-90)" stroke="#000" stroke-width="0.2">
  <text x="-0.3" y="-6.7" font-size="6.4">5</text>
  <text x="3.3" y="0" font-size="11.5">D</text>
  <text x="11.2" y="3.7" font-size="6.8" style="fill:#666;stroke:#666">0</text>
  <line x1="15" y1="-4.3" x2="20.5" y2="-4.3" stroke="#222" stroke-width="1.1"/>
  <polygon points="19.6,-6.2 25.9,-4.3 19.6,-2.4" fill="#000"/>
  <text x="27.2" y="-7.3" font-size="6.4">7</text>
  <text x="30.6" y="0" font-size="11.5">F</text>
  <text x="37.4" y="5" font-size="6.8">1</text>
</g>
<text x="136.8" y="266.3" font-size="17.2">Wavelength, nm</text>
<text transform="translate(16.3,165) rotate(-90)" font-size="17.9">Intensity, a.u.</text>
<text x="166.4" y="307" font-size="13.8">(<tspan font-weight="bold">a</tspan>)</text>

<!-- ===== photos (b) ===== -->
<rect x="384.5" y="15.3" width="163" height="237" fill="#fdfdfb"/>
<g clip-path="url(#c1)">
  <rect x="392.5" y="20" width="152.5" height="83.5" fill="url(#gbg)"/>
  <ellipse cx="530" cy="40" rx="20" ry="20" fill="#92909c" filter="url(#b3)"/>
  <ellipse cx="405" cy="80" rx="16" ry="26" fill="#676573" filter="url(#b3)"/>
  <ellipse cx="466" cy="84" rx="42" ry="4.5" fill="#8c8a96" filter="url(#b3)"/>
  <ellipse cx="472" cy="97.5" rx="52" ry="5.5" fill="#5b5965" filter="url(#b3)"/>
  <ellipse cx="503" cy="84" rx="8" ry="10" fill="#5a5864" filter="url(#b3)"/>
  <rect x="392.5" y="20" width="152.5" height="83.5" fill="#888" filter="url(#noise)"/>
  <!-- crystal -->
  <polygon points="429.5,50.2 446,50.8 460,51.8 472,52.5 490,52.7 504.3,52.9 505.3,60 505.5,74.5 502,79.2 490,79 480,78 470,77 464.9,76.3 455.8,75.6 446,74.8 438.8,73.5 432,71 428.2,68.5 427.8,60" fill="#3c3c4e" filter="url(#b05)"/>
  <path d="M429.2,50.3 L466,51.6 L467,54.6 L429,54.8 Z" fill="#c6c8d6" filter="url(#b05)"/>
  <path d="M429,54 C436,53.5 444,54.5 448,55.5 C456,57.5 464,57.5 470,57 C471.5,62 471.5,69 470.5,73.3 C466,74.6 458,74.8 448.6,74.1 C441,73.5 436,72.5 432,70.5 C429.5,69 428.5,67 428.5,65 C428.3,61 428.5,57 429,54 Z" fill="#f6f7fc" filter="url(#b1)"/>
  <ellipse cx="447" cy="64" rx="15" ry="7.5" fill="#ffffff" filter="url(#b1)"/>
  <path d="M446,55.6 C455,55.2 462,54.6 470,54 L470,58.2 C463,58.4 455,57.8 446,56.6 Z" fill="#2c2c44" filter="url(#b05)"/>
  <path d="M466,52.8 L504.3,53 L504.6,58 L496,60 L489,61.5 L488.6,68 L486.5,76.2 L468,76.5 C470.5,70 471,61 468,57 Z" fill="#24243a" filter="url(#b05)"/>
  <path d="M467,52.6 L504.3,53.2 L504.5,57.5 L490,58.5 L468,57.5 Z" fill="#111120" filter="url(#b05)"/>
  <ellipse cx="481" cy="63.5" rx="6.5" ry="5" fill="#4e4e66" filter="url(#b1)"/>
  <ellipse cx="476" cy="70" rx="5" ry="3" fill="#3c3c54" filter="url(#b1)"/>
  <ellipse cx="496" cy="60" rx="7" ry="2.2" fill="#3a3a50" filter="url(#b1)"/>
  <ellipse cx="499" cy="73" rx="6.3" ry="6.8" fill="#f2f2f8" filter="url(#b05)"/>
  <ellipse cx="493" cy="68.5" rx="3.5" ry="5" fill="#ececf4" filter="url(#b05)"/>
  <ellipse cx="499" cy="64" rx="1.8" ry="1.6" fill="#d0d0e0" filter="url(#b05)"/>
  <path d="M495.6,61 L497.6,61 L497.2,68 L495.8,68 Z" fill="#2a2a42" filter="url(#b05)"/>
  <circle cx="493.9" cy="66.3" r="1.4" fill="#1e1e34" filter="url(#b05)"/>
  <circle cx="492.2" cy="72.7" r="1.3" fill="#26263c" filter="url(#b05)"/>
  <ellipse cx="495.8" cy="73.6" rx="2.3" ry="1.3" fill="#26263c" filter="url(#b05)"/>
  <circle cx="470" cy="72.5" r="1.6" fill="#e8e8f4" filter="url(#b05)"/>
  <circle cx="474.2" cy="74.2" r="1.5" fill="#e0e0ee" filter="url(#b05)"/>
  <circle cx="478.5" cy="71.8" r="1.3" fill="#d0d0e0" filter="url(#b05)"/>
  <circle cx="482.5" cy="74.6" r="1.2" fill="#c8c8dc" filter="url(#b05)"/>
  <circle cx="476" cy="68" r="0.9" fill="#a0a0b8" filter="url(#b05)"/>
  <circle cx="485" cy="70" r="0.9" fill="#8a8aa4" filter="url(#b05)"/>
  <circle cx="486.5" cy="65.5" r="0.9" fill="#7080a0" filter="url(#b05)"/>
</g>
<text x="407.8" y="127.1" font-size="21.6">Natural light</text>

<g clip-path="url(#c2)">
  <rect x="393" y="137.2" width="152" height="83" fill="#040003"/>
  <path d="M428,186 L503,186 L502,215 L429,215 Z" fill="url(#grefl)" filter="url(#b2)"/>
  <polygon points="427.3,164.4 457.4,164 480,165.5 496.9,166.3 499.3,174.5 503.4,182.2 500.4,188.7 494.5,192.3 480,192.5 467,191.7 445.6,188.7 431.4,185.2 428,181.6 425.5,173.4" fill="#d01020" filter="url(#b3)" opacity="0.75"/>
  <polygon points="427.3,164.4 457.4,164 480,165.5 496.9,166.3 499.3,174.5 503.4,182.2 500.4,188.7 494.5,192.3 480,192.5 467,191.7 445.6,188.7 431.4,185.2 428,181.6 425.5,173.4" fill="url(#gred)" filter="url(#b05)"/>
  <path d="M473,177 C479,175.5 487,176.5 490,180 C492,185 489,190 482,191.5 C476,192 472,189.5 471.5,184.5 C471.5,180.5 471.5,178 473,177 Z" fill="#b00a20" filter="url(#b2)"/>
  <ellipse cx="479" cy="181" rx="3" ry="2.5" fill="#900818" filter="url(#b1)"/>
  <ellipse cx="497" cy="182" rx="4.5" ry="4.5" fill="#ff3656" filter="url(#b1)"/>
  <ellipse cx="450" cy="176" rx="16" ry="7" fill="#ff4a5a" filter="url(#b3)" opacity="0.7"/>
  <path d="M466,169 L497,168.2 L497.5,173.6 L466,173.4 Z" fill="#ff6a48" filter="url(#b1)"/>
  <ellipse cx="489.5" cy="171" rx="7" ry="2.4" fill="#ffd070" filter="url(#b1)"/>
  <ellipse cx="491" cy="170.8" rx="3.5" ry="1.6" fill="#ffee90" filter="url(#b05)"/>
  <ellipse cx="435" cy="170" rx="6.5" ry="3.6" fill="#ff8848" filter="url(#b1)" transform="rotate(12 435 170)"/>
  <ellipse cx="433.5" cy="169.2" rx="3.5" ry="2.2" fill="#ffe050" filter="url(#b05)" transform="rotate(15 433.5 169.2)"/>
  <ellipse cx="435.6" cy="182.2" rx="2" ry="2" fill="#ff7060" filter="url(#b1)"/>
</g>
<text x="437.3" y="243.9" font-size="21.3">UV light</text>
<text x="459.9" y="306.9" font-size="14.3">(<tspan font-weight="bold">b</tspan>)</text>
</svg>
</body></html>
